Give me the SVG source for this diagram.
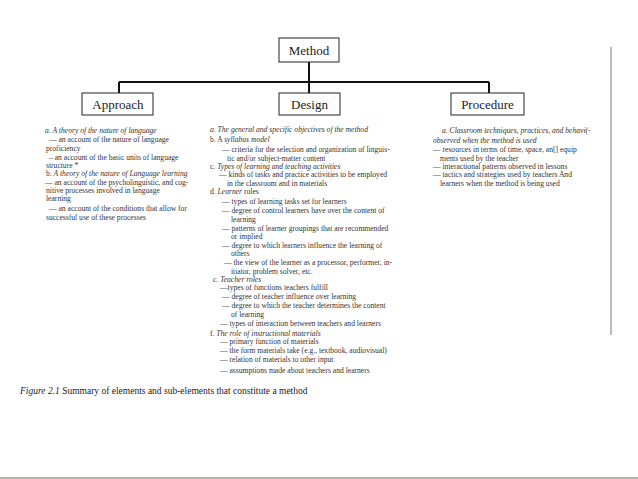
<svg xmlns="http://www.w3.org/2000/svg" width="638" height="479" viewBox="0 0 638 479">
<style>
.box{fill:#fff;stroke:#222;stroke-width:1}
.lbl{font-family:"Liberation Serif",serif;font-size:13px;fill:#222;text-anchor:middle}
.conn{stroke:#111;stroke-width:2;fill:none}
.t{font-family:"Liberation Serif",serif;font-size:7.6px;fill:#333}
.i{font-style:italic}
.cap{font-family:"Liberation Serif",serif;font-size:9.5px;fill:#222}
</style>
<rect width="638" height="479" fill="#fff"/>
<g id="connectors">
<path class="conn" d="M309 62V82M119 82H489M119 82V93M309 82V93M489 82V93"/>
</g>
<g id="method"><rect class="box" x="279" y="38" width="60" height="24"/><text class="lbl" x="309" y="54.5">Method</text></g>
<g id="approach"><rect class="box" x="82" y="93" width="71" height="22"/><text class="lbl" x="118" y="108.5">Approach</text></g>
<g id="design"><rect class="box" x="279" y="93" width="61" height="22"/><text class="lbl" x="309.5" y="108.5">Design</text></g>
<g id="procedure"><rect class="box" x="451" y="93" width="73" height="22"/><text class="lbl" x="487.5" y="108.5">Procedure</text></g>
<g id="approach-text" class="t">
<text x="45" y="132.5" class="i">a. A theory of the nature of language</text>
<text x="49" y="142">— an account of the nature of language</text>
<text x="46" y="150.5">proficiency</text>
<text x="49" y="159.5">– an account of the basic units of language</text>
<text x="46" y="167.5">structure *</text>
<text x="46" y="175.5">b. <tspan class="i">A theory of the nature of Language learning</tspan></text>
<text x="45" y="184.5">— an account of the psycholinguistic, and cog-</text>
<text x="46" y="192.5">nitive processes involved in language</text>
<text x="46" y="200.5">learning</text>
<text x="49" y="210.5">— an account of the conditions that allow for</text>
<text x="46" y="219.5">successful use of these processes</text>
</g>
<g id="design-text" class="t">
<text x="210" y="131.5" class="i">a. The general and specific objectives of the method</text>
<text x="210" y="141.5">b. A <tspan class="i">syllabus model</tspan></text>
<text x="222" y="151.5">— criteria for the selection and organization of linguis-</text>
<text x="227" y="160.5">tic and/or subject-matter content</text>
<text x="210" y="168.5">c. <tspan class="i">Types of learning and teaching activities</tspan></text>
<text x="219" y="176.5">— kinds of tasks and practice activities to be employed</text>
<text x="227" y="185.5">in the classroom and in materials</text>
<text x="210" y="193.5">d. <tspan class="i">Learner</tspan> roles</text>
<text x="222" y="203.5">— types of learning tasks set for learners</text>
<text x="222" y="212.5">— degree of control learners have over the content of</text>
<text x="231" y="221.5">learning</text>
<text x="222" y="230.5">— patterns of learner groupings that are recommended</text>
<text x="231" y="238.5">or implied</text>
<text x="222" y="247.5">— degree to which learners influence the learning of</text>
<text x="231" y="255.5">others</text>
<text x="224" y="264.5">— the view of the learner as a processor, performer, in-</text>
<text x="231" y="273.5">itiator, problem solver, etc.</text>
<text x="213" y="281.5" class="i">c. Teacher roles</text>
<text x="220" y="289.5">—types of functions teachers fulfill</text>
<text x="222" y="298.5">— degree of teacher influence over learning</text>
<text x="222" y="307.5">— degree to which the teacher determines the content</text>
<text x="231" y="316.5">of learning</text>
<text x="220" y="325.5">— types of interaction between teachers and learners</text>
<text x="210" y="335.5">f. <tspan class="i">The role of instructional materials</tspan></text>
<text x="220" y="343.5">— primary function of materials</text>
<text x="220" y="352.5">— the form materials take (e.g., textbook, audiovisual)</text>
<text x="220" y="361.5">— relation of materials to other input</text>
<text x="220" y="372.5">— assumptions made about teachers and learners</text>
</g>
<g id="procedure-text" class="t">
<text x="442" y="132.5" class="i">a. Classroom techniques, practices, and behavi(-</text>
<text x="433" y="142.5" class="i">observed when the method is used</text>
<text x="433" y="151.5">— resources in terms of time, space, an[] equip</text>
<text x="440" y="160.5">ments used by the teacher</text>
<text x="433" y="168.5">— interactional patterns observed in lessons</text>
<text x="433" y="176.5">— tactics and strategies used by teachers And</text>
<text x="440" y="185.5">learners when the method is being used</text>
</g>
<text class="cap" x="20" y="394"><tspan class="i">Figure 2.1</tspan> Summary of elements and sub-elements that constitute a method</text>
<line x1="611" y1="47" x2="611" y2="335" stroke="#777" stroke-width="1"/>
<rect x="0" y="477" width="638" height="2" fill="#b4b4aa"/>
</svg>
